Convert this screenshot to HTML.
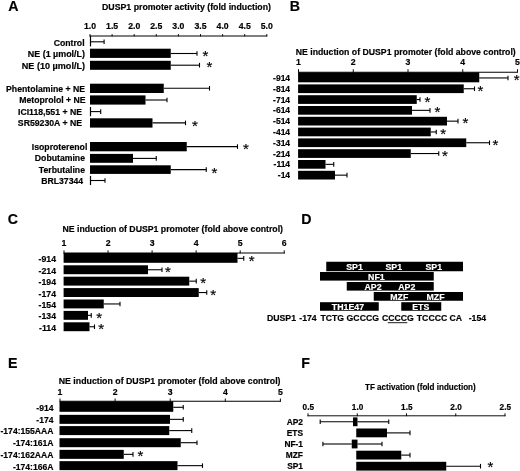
<!DOCTYPE html>
<html><head><meta charset="utf-8"><title>DUSP1 promoter figure</title>
<style>
html,body{margin:0;padding:0;background:#fff;}
svg{display:block;font-family:"Liberation Sans", sans-serif;font-weight:bold;font-size:8.7px;fill:#000;}
text{stroke:#000;stroke-width:0.18px;}
text[fill="#fff"]{stroke:#fff;}
</style></head>
<body>
<svg width="520" height="471" viewBox="0 0 520 471">
<defs><filter id="soft" x="0" y="0" width="520" height="471" filterUnits="userSpaceOnUse"><feGaussianBlur stdDeviation="0.35"/></filter></defs>
<rect x="0" y="0" width="520" height="471" fill="#fff"/>
<g filter="url(#soft)">
<rect x="-5" y="-5" width="530" height="481" fill="#fff"/>
<g id="panelA">
<text x="8.3" y="10.8" font-size="14.2">A</text>
<text x="102" y="9.8" textLength="169" lengthAdjust="spacingAndGlyphs">DUSP1 promoter activity (fold induction)</text>
<text x="90" y="29" text-anchor="middle">1.0</text>
<line x1="90" y1="34.1" x2="90" y2="36.4" stroke="#000" stroke-width="0.95"/>
<text x="112.1" y="29" text-anchor="middle">1.5</text>
<line x1="112.1" y1="34.1" x2="112.1" y2="36.4" stroke="#000" stroke-width="0.95"/>
<text x="134.2" y="29" text-anchor="middle">2.0</text>
<line x1="134.2" y1="34.1" x2="134.2" y2="36.4" stroke="#000" stroke-width="0.95"/>
<text x="156.3" y="29" text-anchor="middle">2.5</text>
<line x1="156.3" y1="34.1" x2="156.3" y2="36.4" stroke="#000" stroke-width="0.95"/>
<text x="178.4" y="29" text-anchor="middle">3.0</text>
<line x1="178.4" y1="34.1" x2="178.4" y2="36.4" stroke="#000" stroke-width="0.95"/>
<text x="200.5" y="29" text-anchor="middle">3.5</text>
<line x1="200.5" y1="34.1" x2="200.5" y2="36.4" stroke="#000" stroke-width="0.95"/>
<text x="222.6" y="29" text-anchor="middle">4.0</text>
<line x1="222.6" y1="34.1" x2="222.6" y2="36.4" stroke="#000" stroke-width="0.95"/>
<text x="244.7" y="29" text-anchor="middle">4.5</text>
<line x1="244.7" y1="34.1" x2="244.7" y2="36.4" stroke="#000" stroke-width="0.95"/>
<text x="266.8" y="29" text-anchor="middle">5.0</text>
<line x1="266.8" y1="34.1" x2="266.8" y2="36.4" stroke="#000" stroke-width="0.95"/>
<line x1="89.55" y1="36" x2="267.25" y2="36" stroke="#000" stroke-width="1"/>
<line x1="90.5" y1="36" x2="90.5" y2="46.4" stroke="#000" stroke-width="1.2"/>
<text x="84.6" y="45.9" text-anchor="end">Control</text>
<line x1="90.4" y1="41.8" x2="104.1" y2="41.8" stroke="#000" stroke-width="1.1"/>
<line x1="104.1" y1="39.5" x2="104.1" y2="44.1" stroke="#000" stroke-width="1.1"/>
<text x="85" y="57" text-anchor="end" textLength="57.2" lengthAdjust="spacingAndGlyphs">NE (1 µmol/L)</text>
<rect x="90" y="48.7" width="80.75" height="9.2"/>
<line x1="170.75" y1="53.5" x2="197" y2="53.5" stroke="#000" stroke-width="1.1"/>
<line x1="197" y1="51.2" x2="197" y2="55.8" stroke="#000" stroke-width="1.1"/>
<text x="205.5" y="61.4" font-size="15" text-anchor="middle" font-weight="normal" stroke="#000" stroke-width="0.3">*</text>
<text x="85" y="68.6" text-anchor="end" textLength="63.2" lengthAdjust="spacingAndGlyphs">NE (10 µmol/L)</text>
<rect x="90" y="60.8" width="80.75" height="9"/>
<line x1="170.75" y1="65.2" x2="199.5" y2="65.2" stroke="#000" stroke-width="1.1"/>
<line x1="199.5" y1="62.9" x2="199.5" y2="67.5" stroke="#000" stroke-width="1.1"/>
<text x="209.3" y="72.19" font-size="15" text-anchor="middle" font-weight="normal" stroke="#000" stroke-width="0.3">*</text>
<text x="85" y="92" text-anchor="end">Phentolamine + NE</text>
<rect x="90" y="83.7" width="73.75" height="9.3"/>
<line x1="163.75" y1="88.3" x2="209.5" y2="88.3" stroke="#000" stroke-width="1.1"/>
<line x1="209.5" y1="86" x2="209.5" y2="90.6" stroke="#000" stroke-width="1.1"/>
<text x="85.6" y="103.4" text-anchor="end">Metoprolol + NE</text>
<rect x="90" y="95.4" width="55.5" height="9.2"/>
<line x1="145.5" y1="100" x2="167" y2="100" stroke="#000" stroke-width="1.1"/>
<line x1="167" y1="97.7" x2="167" y2="102.3" stroke="#000" stroke-width="1.1"/>
<text x="82" y="114.8" text-anchor="end">ICI118,551 + NE</text>
<line x1="90.5" y1="107" x2="90.5" y2="116.2" stroke="#000" stroke-width="1.2"/>
<line x1="90.4" y1="111.6" x2="100.7" y2="111.6" stroke="#000" stroke-width="1.1"/>
<line x1="100.7" y1="109.3" x2="100.7" y2="113.9" stroke="#000" stroke-width="1.1"/>
<text x="82" y="126.3" text-anchor="end">SR59230A + NE</text>
<rect x="90" y="118.3" width="62.5" height="9.3"/>
<line x1="152.5" y1="122.9" x2="185.5" y2="122.9" stroke="#000" stroke-width="1.1"/>
<line x1="185.5" y1="120.6" x2="185.5" y2="125.2" stroke="#000" stroke-width="1.1"/>
<text x="195" y="130.69" font-size="15" text-anchor="middle" font-weight="normal" stroke="#000" stroke-width="0.3">*</text>
<text x="87.3" y="149.6" text-anchor="end">Isoproterenol</text>
<rect x="90" y="142" width="96.75" height="9.3"/>
<line x1="186.75" y1="146.6" x2="237.5" y2="146.6" stroke="#000" stroke-width="1.1"/>
<line x1="237.5" y1="144.3" x2="237.5" y2="148.9" stroke="#000" stroke-width="1.1"/>
<text x="246" y="154" font-size="15" text-anchor="middle" font-weight="normal" stroke="#000" stroke-width="0.3">*</text>
<text x="85" y="161.1" text-anchor="end">Dobutamine</text>
<rect x="90" y="153.9" width="43" height="8.9"/>
<line x1="133" y1="158.4" x2="156.25" y2="158.4" stroke="#000" stroke-width="1.1"/>
<line x1="156.25" y1="156.1" x2="156.25" y2="160.7" stroke="#000" stroke-width="1.1"/>
<text x="85" y="172.6" text-anchor="end">Terbutaline</text>
<rect x="90" y="165.3" width="80.75" height="8.6"/>
<line x1="170.75" y1="169.6" x2="206.25" y2="169.6" stroke="#000" stroke-width="1.1"/>
<line x1="206.25" y1="167.3" x2="206.25" y2="171.9" stroke="#000" stroke-width="1.1"/>
<text x="214.5" y="178" font-size="15" text-anchor="middle" font-weight="normal" stroke="#000" stroke-width="0.3">*</text>
<text x="83.2" y="184" text-anchor="end">BRL37344</text>
<line x1="90.5" y1="175.9" x2="90.5" y2="185.1" stroke="#000" stroke-width="1.2"/>
<line x1="90.4" y1="180.5" x2="105" y2="180.5" stroke="#000" stroke-width="1.1"/>
<line x1="105" y1="178.2" x2="105" y2="182.8" stroke="#000" stroke-width="1.1"/>
</g>
<g id="panelB">
<text x="289.8" y="10.8" font-size="14.2">B</text>
<text x="295.75" y="54.8" textLength="220" lengthAdjust="spacingAndGlyphs">NE induction of DUSP1 promoter (fold above control)</text>
<text x="298.5" y="64.5" text-anchor="middle">1</text>
<line x1="298.5" y1="69.2" x2="298.5" y2="72.4" stroke="#000" stroke-width="0.95"/>
<text x="353.25" y="64.5" text-anchor="middle">2</text>
<line x1="353.25" y1="69.2" x2="353.25" y2="72.4" stroke="#000" stroke-width="0.95"/>
<text x="408" y="64.5" text-anchor="middle">3</text>
<line x1="408" y1="69.2" x2="408" y2="72.4" stroke="#000" stroke-width="0.95"/>
<text x="462.75" y="64.5" text-anchor="middle">4</text>
<line x1="462.75" y1="69.2" x2="462.75" y2="72.4" stroke="#000" stroke-width="0.95"/>
<text x="517.5" y="64.5" text-anchor="middle">5</text>
<line x1="517.5" y1="69.2" x2="517.5" y2="72.4" stroke="#000" stroke-width="0.95"/>
<line x1="298.05" y1="72.3" x2="517.95" y2="72.3" stroke="#000" stroke-width="1.1"/>
<rect x="298.1" y="72.3" width="181.15" height="10"/>
<line x1="479.25" y1="77.95" x2="508" y2="77.95" stroke="#000" stroke-width="1.1"/>
<line x1="508" y1="75.65" x2="508" y2="80.25" stroke="#000" stroke-width="1.1"/>
<text x="290.1" y="80.95" font-size="8.5" text-anchor="end">-914</text>
<text x="516.75" y="85.04" font-size="15" text-anchor="middle" font-weight="normal" stroke="#000" stroke-width="0.3">*</text>
<rect x="298.1" y="84.4" width="165.65" height="8.7"/>
<line x1="463.75" y1="88.75" x2="474.5" y2="88.75" stroke="#000" stroke-width="1.1"/>
<line x1="474.5" y1="86.45" x2="474.5" y2="91.05" stroke="#000" stroke-width="1.1"/>
<text x="290.1" y="91.75" font-size="8.5" text-anchor="end">-814</text>
<text x="480.5" y="95.84" font-size="15" text-anchor="middle" font-weight="normal" stroke="#000" stroke-width="0.3">*</text>
<rect x="298.1" y="95.2" width="118.65" height="8.7"/>
<line x1="416.75" y1="99.55" x2="420" y2="99.55" stroke="#000" stroke-width="1.1"/>
<line x1="420" y1="97.25" x2="420" y2="101.85" stroke="#000" stroke-width="1.1"/>
<text x="290.1" y="102.55" font-size="8.5" text-anchor="end">-714</text>
<text x="427.5" y="106.64" font-size="15" text-anchor="middle" font-weight="normal" stroke="#000" stroke-width="0.3">*</text>
<rect x="298.1" y="106" width="113.9" height="8.7"/>
<line x1="412" y1="110.35" x2="430" y2="110.35" stroke="#000" stroke-width="1.1"/>
<line x1="430" y1="108.05" x2="430" y2="112.65" stroke="#000" stroke-width="1.1"/>
<text x="290.1" y="113.35" font-size="8.5" text-anchor="end">-614</text>
<text x="437.5" y="117.44" font-size="15" text-anchor="middle" font-weight="normal" stroke="#000" stroke-width="0.3">*</text>
<rect x="298.1" y="116.8" width="148.9" height="8.7"/>
<line x1="447" y1="121.15" x2="458" y2="121.15" stroke="#000" stroke-width="1.1"/>
<line x1="458" y1="118.85" x2="458" y2="123.45" stroke="#000" stroke-width="1.1"/>
<text x="290.1" y="124.15" font-size="8.5" text-anchor="end">-514</text>
<text x="465.5" y="128.25" font-size="15" text-anchor="middle" font-weight="normal" stroke="#000" stroke-width="0.3">*</text>
<rect x="298.1" y="127.6" width="132.65" height="8.7"/>
<line x1="430.75" y1="131.95" x2="436.25" y2="131.95" stroke="#000" stroke-width="1.1"/>
<line x1="436.25" y1="129.65" x2="436.25" y2="134.25" stroke="#000" stroke-width="1.1"/>
<text x="290.1" y="134.95" font-size="8.5" text-anchor="end">-414</text>
<text x="443.25" y="139.04" font-size="15" text-anchor="middle" font-weight="normal" stroke="#000" stroke-width="0.3">*</text>
<rect x="298.1" y="138.4" width="168.15" height="8.7"/>
<line x1="466.25" y1="142.75" x2="489.5" y2="142.75" stroke="#000" stroke-width="1.1"/>
<line x1="489.5" y1="140.45" x2="489.5" y2="145.05" stroke="#000" stroke-width="1.1"/>
<text x="290.1" y="145.75" font-size="8.5" text-anchor="end">-314</text>
<text x="495.5" y="149.84" font-size="15" text-anchor="middle" font-weight="normal" stroke="#000" stroke-width="0.3">*</text>
<rect x="298.1" y="149.2" width="112.65" height="8.7"/>
<line x1="410.75" y1="153.55" x2="438.75" y2="153.55" stroke="#000" stroke-width="1.1"/>
<line x1="438.75" y1="151.25" x2="438.75" y2="155.85" stroke="#000" stroke-width="1.1"/>
<text x="290.1" y="156.55" font-size="8.5" text-anchor="end">-214</text>
<text x="445" y="160.64" font-size="15" text-anchor="middle" font-weight="normal" stroke="#000" stroke-width="0.3">*</text>
<rect x="298.1" y="160" width="27.4" height="8.7"/>
<line x1="325.5" y1="164.35" x2="333.75" y2="164.35" stroke="#000" stroke-width="1.1"/>
<line x1="333.75" y1="162.05" x2="333.75" y2="166.65" stroke="#000" stroke-width="1.1"/>
<text x="290.1" y="167.35" font-size="8.5" text-anchor="end">-114</text>
<rect x="298.1" y="170.8" width="36.9" height="8.7"/>
<line x1="335" y1="175.15" x2="347" y2="175.15" stroke="#000" stroke-width="1.1"/>
<line x1="347" y1="172.85" x2="347" y2="177.45" stroke="#000" stroke-width="1.1"/>
<text x="290.1" y="178.15" font-size="8.5" text-anchor="end">-14</text>
</g>
<g id="panelC">
<text x="7.8" y="223.6" font-size="14.2">C</text>
<text x="62.5" y="231.8" textLength="220.5" lengthAdjust="spacingAndGlyphs">NE induction of DUSP1 promoter (fold above control)</text>
<text x="64" y="246.2" text-anchor="middle">1</text>
<line x1="64" y1="250.3" x2="64" y2="253.4" stroke="#000" stroke-width="0.95"/>
<text x="108.05" y="246.2" text-anchor="middle">2</text>
<line x1="108.05" y1="250.3" x2="108.05" y2="253.4" stroke="#000" stroke-width="0.95"/>
<text x="152.1" y="246.2" text-anchor="middle">3</text>
<line x1="152.1" y1="250.3" x2="152.1" y2="253.4" stroke="#000" stroke-width="0.95"/>
<text x="196.15" y="246.2" text-anchor="middle">4</text>
<line x1="196.15" y1="250.3" x2="196.15" y2="253.4" stroke="#000" stroke-width="0.95"/>
<text x="240.2" y="246.2" text-anchor="middle">5</text>
<line x1="240.2" y1="250.3" x2="240.2" y2="253.4" stroke="#000" stroke-width="0.95"/>
<text x="284.25" y="246.2" text-anchor="middle">6</text>
<line x1="284.25" y1="250.3" x2="284.25" y2="253.4" stroke="#000" stroke-width="0.95"/>
<line x1="63.55" y1="253" x2="284.7" y2="253" stroke="#000" stroke-width="1.1"/>
<rect x="63.6" y="253" width="173.9" height="9.8"/>
<line x1="237.5" y1="258.35" x2="243.75" y2="258.35" stroke="#000" stroke-width="1.1"/>
<line x1="243.75" y1="256.05" x2="243.75" y2="260.65" stroke="#000" stroke-width="1.1"/>
<text x="56" y="262.45" text-anchor="end">-914</text>
<text x="251.75" y="265.65" font-size="15" text-anchor="middle" font-weight="normal" stroke="#000" stroke-width="0.3">*</text>
<rect x="63.6" y="265.3" width="84.4" height="8.9"/>
<line x1="148" y1="269.75" x2="162" y2="269.75" stroke="#000" stroke-width="1.1"/>
<line x1="162" y1="267.45" x2="162" y2="272.05" stroke="#000" stroke-width="1.1"/>
<text x="56" y="273.85" text-anchor="end">-214</text>
<text x="168" y="277.05" font-size="15" text-anchor="middle" font-weight="normal" stroke="#000" stroke-width="0.3">*</text>
<rect x="63.6" y="276.7" width="125.65" height="8.9"/>
<line x1="189.25" y1="281.15" x2="196.25" y2="281.15" stroke="#000" stroke-width="1.1"/>
<line x1="196.25" y1="278.85" x2="196.25" y2="283.45" stroke="#000" stroke-width="1.1"/>
<text x="56" y="285.25" text-anchor="end">-194</text>
<text x="203.25" y="288.44" font-size="15" text-anchor="middle" font-weight="normal" stroke="#000" stroke-width="0.3">*</text>
<rect x="63.6" y="288.1" width="135.15" height="8.9"/>
<line x1="198.75" y1="292.55" x2="206.75" y2="292.55" stroke="#000" stroke-width="1.1"/>
<line x1="206.75" y1="290.25" x2="206.75" y2="294.85" stroke="#000" stroke-width="1.1"/>
<text x="56" y="296.65" text-anchor="end">-174</text>
<text x="213.25" y="299.85" font-size="15" text-anchor="middle" font-weight="normal" stroke="#000" stroke-width="0.3">*</text>
<rect x="63.6" y="299.5" width="40.15" height="8.9"/>
<line x1="103.75" y1="303.95" x2="120" y2="303.95" stroke="#000" stroke-width="1.1"/>
<line x1="120" y1="301.65" x2="120" y2="306.25" stroke="#000" stroke-width="1.1"/>
<text x="56" y="308.05" text-anchor="end">-154</text>
<rect x="63.6" y="310.9" width="24.4" height="8.9"/>
<line x1="88" y1="315.35" x2="91.25" y2="315.35" stroke="#000" stroke-width="1.1"/>
<line x1="91.25" y1="313.05" x2="91.25" y2="317.65" stroke="#000" stroke-width="1.1"/>
<text x="56" y="319.45" text-anchor="end">-134</text>
<text x="99.25" y="322.64" font-size="15" text-anchor="middle" font-weight="normal" stroke="#000" stroke-width="0.3">*</text>
<rect x="63.6" y="322.3" width="25.9" height="8.9"/>
<line x1="89.5" y1="326.75" x2="94.5" y2="326.75" stroke="#000" stroke-width="1.1"/>
<line x1="94.5" y1="324.45" x2="94.5" y2="329.05" stroke="#000" stroke-width="1.1"/>
<text x="56" y="330.85" text-anchor="end">-114</text>
<text x="101.25" y="334.05" font-size="15" text-anchor="middle" font-weight="normal" stroke="#000" stroke-width="0.3">*</text>
</g>
<g id="panelD">
<text x="301.2" y="223.5" font-size="14.2">D</text>
<rect x="326.25" y="261.75" width="136.75" height="9.5"/>
<text x="354.5" y="270.35" font-size="8.8" text-anchor="middle" fill="#fff">SP1</text>
<text x="393.75" y="270.35" font-size="8.8" text-anchor="middle" fill="#fff">SP1</text>
<text x="433.75" y="270.35" font-size="8.8" text-anchor="middle" fill="#fff">SP1</text>
<rect x="320" y="272" width="113.75" height="8.6"/>
<text x="376.4" y="279.7" font-size="8.8" text-anchor="middle" fill="#fff">NF1</text>
<rect x="346.75" y="282" width="87" height="8.6"/>
<text x="373" y="289.7" font-size="8.8" text-anchor="middle" fill="#fff">AP2</text>
<text x="406.75" y="289.7" font-size="8.8" text-anchor="middle" fill="#fff">AP2</text>
<rect x="373.75" y="292" width="89.25" height="8.75"/>
<text x="399.25" y="299.85" font-size="8.8" text-anchor="middle" fill="#fff">MZF</text>
<text x="435.5" y="299.85" font-size="8.8" text-anchor="middle" fill="#fff">MZF</text>
<rect x="320" y="302.2" width="58.75" height="8.55"/>
<text x="348" y="309.85" font-size="8.8" text-anchor="middle" fill="#fff">TH1E47</text>
<rect x="401.25" y="302.2" width="40" height="8.55"/>
<text x="420.75" y="309.85" font-size="8.8" text-anchor="middle" fill="#fff">ETS</text>
<text x="267" y="321.4">DUSP1</text>
<text x="299.3" y="321.4">-174</text>
<text x="320.4" y="321.4">TCTG</text>
<text x="346.6" y="321.4">GCCCG</text>
<text x="382" y="321.4">CCCCG</text>
<text x="416.8" y="321.4">TCCCC</text>
<text x="449.5" y="321.4">CA</text>
<text x="468.7" y="321.4">-154</text>
<line x1="387.8" y1="322.7" x2="407.3" y2="322.7" stroke="#000" stroke-width="0.9"/>
</g>
<g id="panelE">
<text x="8.1" y="368.1" font-size="14.2">E</text>
<text x="58.75" y="383.5" textLength="221.75" lengthAdjust="spacingAndGlyphs">NE induction of DUSP1 promoter (fold above control)</text>
<text x="60" y="394.8" text-anchor="middle">1</text>
<line x1="60" y1="398.5" x2="60" y2="401.6" stroke="#000" stroke-width="0.95"/>
<text x="115.1" y="394.8" text-anchor="middle">2</text>
<line x1="115.1" y1="398.5" x2="115.1" y2="401.6" stroke="#000" stroke-width="0.95"/>
<text x="170.2" y="394.8" text-anchor="middle">3</text>
<line x1="170.2" y1="398.5" x2="170.2" y2="401.6" stroke="#000" stroke-width="0.95"/>
<text x="225.3" y="394.8" text-anchor="middle">4</text>
<line x1="225.3" y1="398.5" x2="225.3" y2="401.6" stroke="#000" stroke-width="0.95"/>
<text x="280.4" y="394.8" text-anchor="middle">5</text>
<line x1="280.4" y1="398.5" x2="280.4" y2="401.6" stroke="#000" stroke-width="0.95"/>
<line x1="59.55" y1="401.3" x2="280.85" y2="401.3" stroke="#000" stroke-width="1.1"/>
<rect x="59.5" y="401.3" width="113.75" height="10.5"/>
<line x1="173.25" y1="407.3" x2="183.25" y2="407.3" stroke="#000" stroke-width="1.1"/>
<line x1="183.25" y1="405" x2="183.25" y2="409.6" stroke="#000" stroke-width="1.1"/>
<text x="53.5" y="410.5" font-size="8.6" text-anchor="end">-914</text>
<rect x="59.5" y="414.85" width="110.5" height="9"/>
<line x1="170" y1="419.35" x2="183.25" y2="419.35" stroke="#000" stroke-width="1.1"/>
<line x1="183.25" y1="417.05" x2="183.25" y2="421.65" stroke="#000" stroke-width="1.1"/>
<text x="53.5" y="422.6" font-size="8.6" text-anchor="end">-174</text>
<rect x="59.5" y="426.1" width="109.75" height="9"/>
<line x1="169.25" y1="430.6" x2="191.75" y2="430.6" stroke="#000" stroke-width="1.1"/>
<line x1="191.75" y1="428.3" x2="191.75" y2="432.9" stroke="#000" stroke-width="1.1"/>
<text x="53.5" y="434.1" font-size="8.6" text-anchor="end">-174:155AAA</text>
<rect x="59.5" y="438.2" width="121.25" height="9"/>
<line x1="180.75" y1="442.7" x2="197" y2="442.7" stroke="#000" stroke-width="1.1"/>
<line x1="197" y1="440.4" x2="197" y2="445" stroke="#000" stroke-width="1.1"/>
<text x="53.5" y="446.2" font-size="8.6" text-anchor="end">-174:161A</text>
<rect x="59.5" y="449.85" width="64.25" height="9"/>
<line x1="123.75" y1="454.35" x2="133" y2="454.35" stroke="#000" stroke-width="1.1"/>
<line x1="133" y1="452.05" x2="133" y2="456.65" stroke="#000" stroke-width="1.1"/>
<text x="53.5" y="457.7" font-size="8.6" text-anchor="end">-174:162AAA</text>
<text x="140.5" y="461.15" font-size="15" text-anchor="middle" font-weight="normal" stroke="#000" stroke-width="0.3">*</text>
<rect x="59.5" y="461.15" width="118" height="9"/>
<line x1="177.5" y1="465.65" x2="202.5" y2="465.65" stroke="#000" stroke-width="1.1"/>
<line x1="202.5" y1="463.35" x2="202.5" y2="467.95" stroke="#000" stroke-width="1.1"/>
<text x="53.5" y="469.5" font-size="8.6" text-anchor="end">-174:166A</text>
</g>
<g id="panelF">
<text x="301.3" y="368.1" font-size="14.2">F</text>
<text x="365" y="390.1" font-size="8.6" textLength="110.75" lengthAdjust="spacingAndGlyphs">TF activation (fold induction)</text>
<text x="308.3" y="409.7" font-size="8.2" text-anchor="middle">0.5</text>
<line x1="308" y1="413.3" x2="308" y2="416.2" stroke="#000" stroke-width="0.95"/>
<text x="357.55" y="409.7" font-size="8.2" text-anchor="middle">1.0</text>
<line x1="357.25" y1="413.3" x2="357.25" y2="416.2" stroke="#000" stroke-width="0.95"/>
<text x="406.8" y="409.7" font-size="8.2" text-anchor="middle">1.5</text>
<line x1="406.5" y1="413.3" x2="406.5" y2="416.2" stroke="#000" stroke-width="0.95"/>
<text x="456.05" y="409.7" font-size="8.2" text-anchor="middle">2.0</text>
<line x1="455.75" y1="413.3" x2="455.75" y2="416.2" stroke="#000" stroke-width="0.95"/>
<text x="505.3" y="409.7" font-size="8.2" text-anchor="middle">2.5</text>
<line x1="505" y1="413.3" x2="505" y2="416.2" stroke="#000" stroke-width="0.95"/>
<line x1="307.55" y1="415.8" x2="505.45" y2="415.8" stroke="#000" stroke-width="0.95"/>
<rect x="353" y="417.4" width="4.5" height="8.8"/>
<line x1="357.5" y1="421.8" x2="388.75" y2="421.8" stroke="#000" stroke-width="1.1"/>
<line x1="388.75" y1="419.5" x2="388.75" y2="424.1" stroke="#000" stroke-width="1.1"/>
<line x1="320.2" y1="421.8" x2="353" y2="421.8" stroke="#000" stroke-width="1.1"/>
<line x1="320.2" y1="419.5" x2="320.2" y2="424.1" stroke="#000" stroke-width="1.1"/>
<text x="303" y="424.9" font-size="8.4" text-anchor="end">AP2</text>
<rect x="356.25" y="428.5" width="30.75" height="8.8"/>
<line x1="387" y1="432.9" x2="410" y2="432.9" stroke="#000" stroke-width="1.1"/>
<line x1="410" y1="430.6" x2="410" y2="435.2" stroke="#000" stroke-width="1.1"/>
<text x="303" y="436" font-size="8.4" text-anchor="end">ETS</text>
<rect x="351.75" y="439.6" width="5.75" height="8.8"/>
<line x1="357.5" y1="444" x2="382" y2="444" stroke="#000" stroke-width="1.1"/>
<line x1="382" y1="441.7" x2="382" y2="446.3" stroke="#000" stroke-width="1.1"/>
<line x1="322.9" y1="444" x2="351.75" y2="444" stroke="#000" stroke-width="1.1"/>
<line x1="322.9" y1="441.7" x2="322.9" y2="446.3" stroke="#000" stroke-width="1.1"/>
<text x="303" y="447.1" font-size="8.4" text-anchor="end">NF-1</text>
<rect x="356.25" y="450.7" width="45" height="8.8"/>
<line x1="401.25" y1="455.1" x2="410" y2="455.1" stroke="#000" stroke-width="1.1"/>
<line x1="410" y1="452.8" x2="410" y2="457.4" stroke="#000" stroke-width="1.1"/>
<text x="303" y="458.2" font-size="8.4" text-anchor="end">MZF</text>
<rect x="356.25" y="461.8" width="90" height="8.8"/>
<line x1="446.25" y1="466.2" x2="480.5" y2="466.2" stroke="#000" stroke-width="1.1"/>
<line x1="480.5" y1="463.9" x2="480.5" y2="468.5" stroke="#000" stroke-width="1.1"/>
<text x="303" y="469.3" font-size="8.4" text-anchor="end">SP1</text>
<text x="490.5" y="472.49" font-size="15" text-anchor="middle" font-weight="normal" stroke="#000" stroke-width="0.3">*</text>
</g>
</g>
</svg>
</body></html>
